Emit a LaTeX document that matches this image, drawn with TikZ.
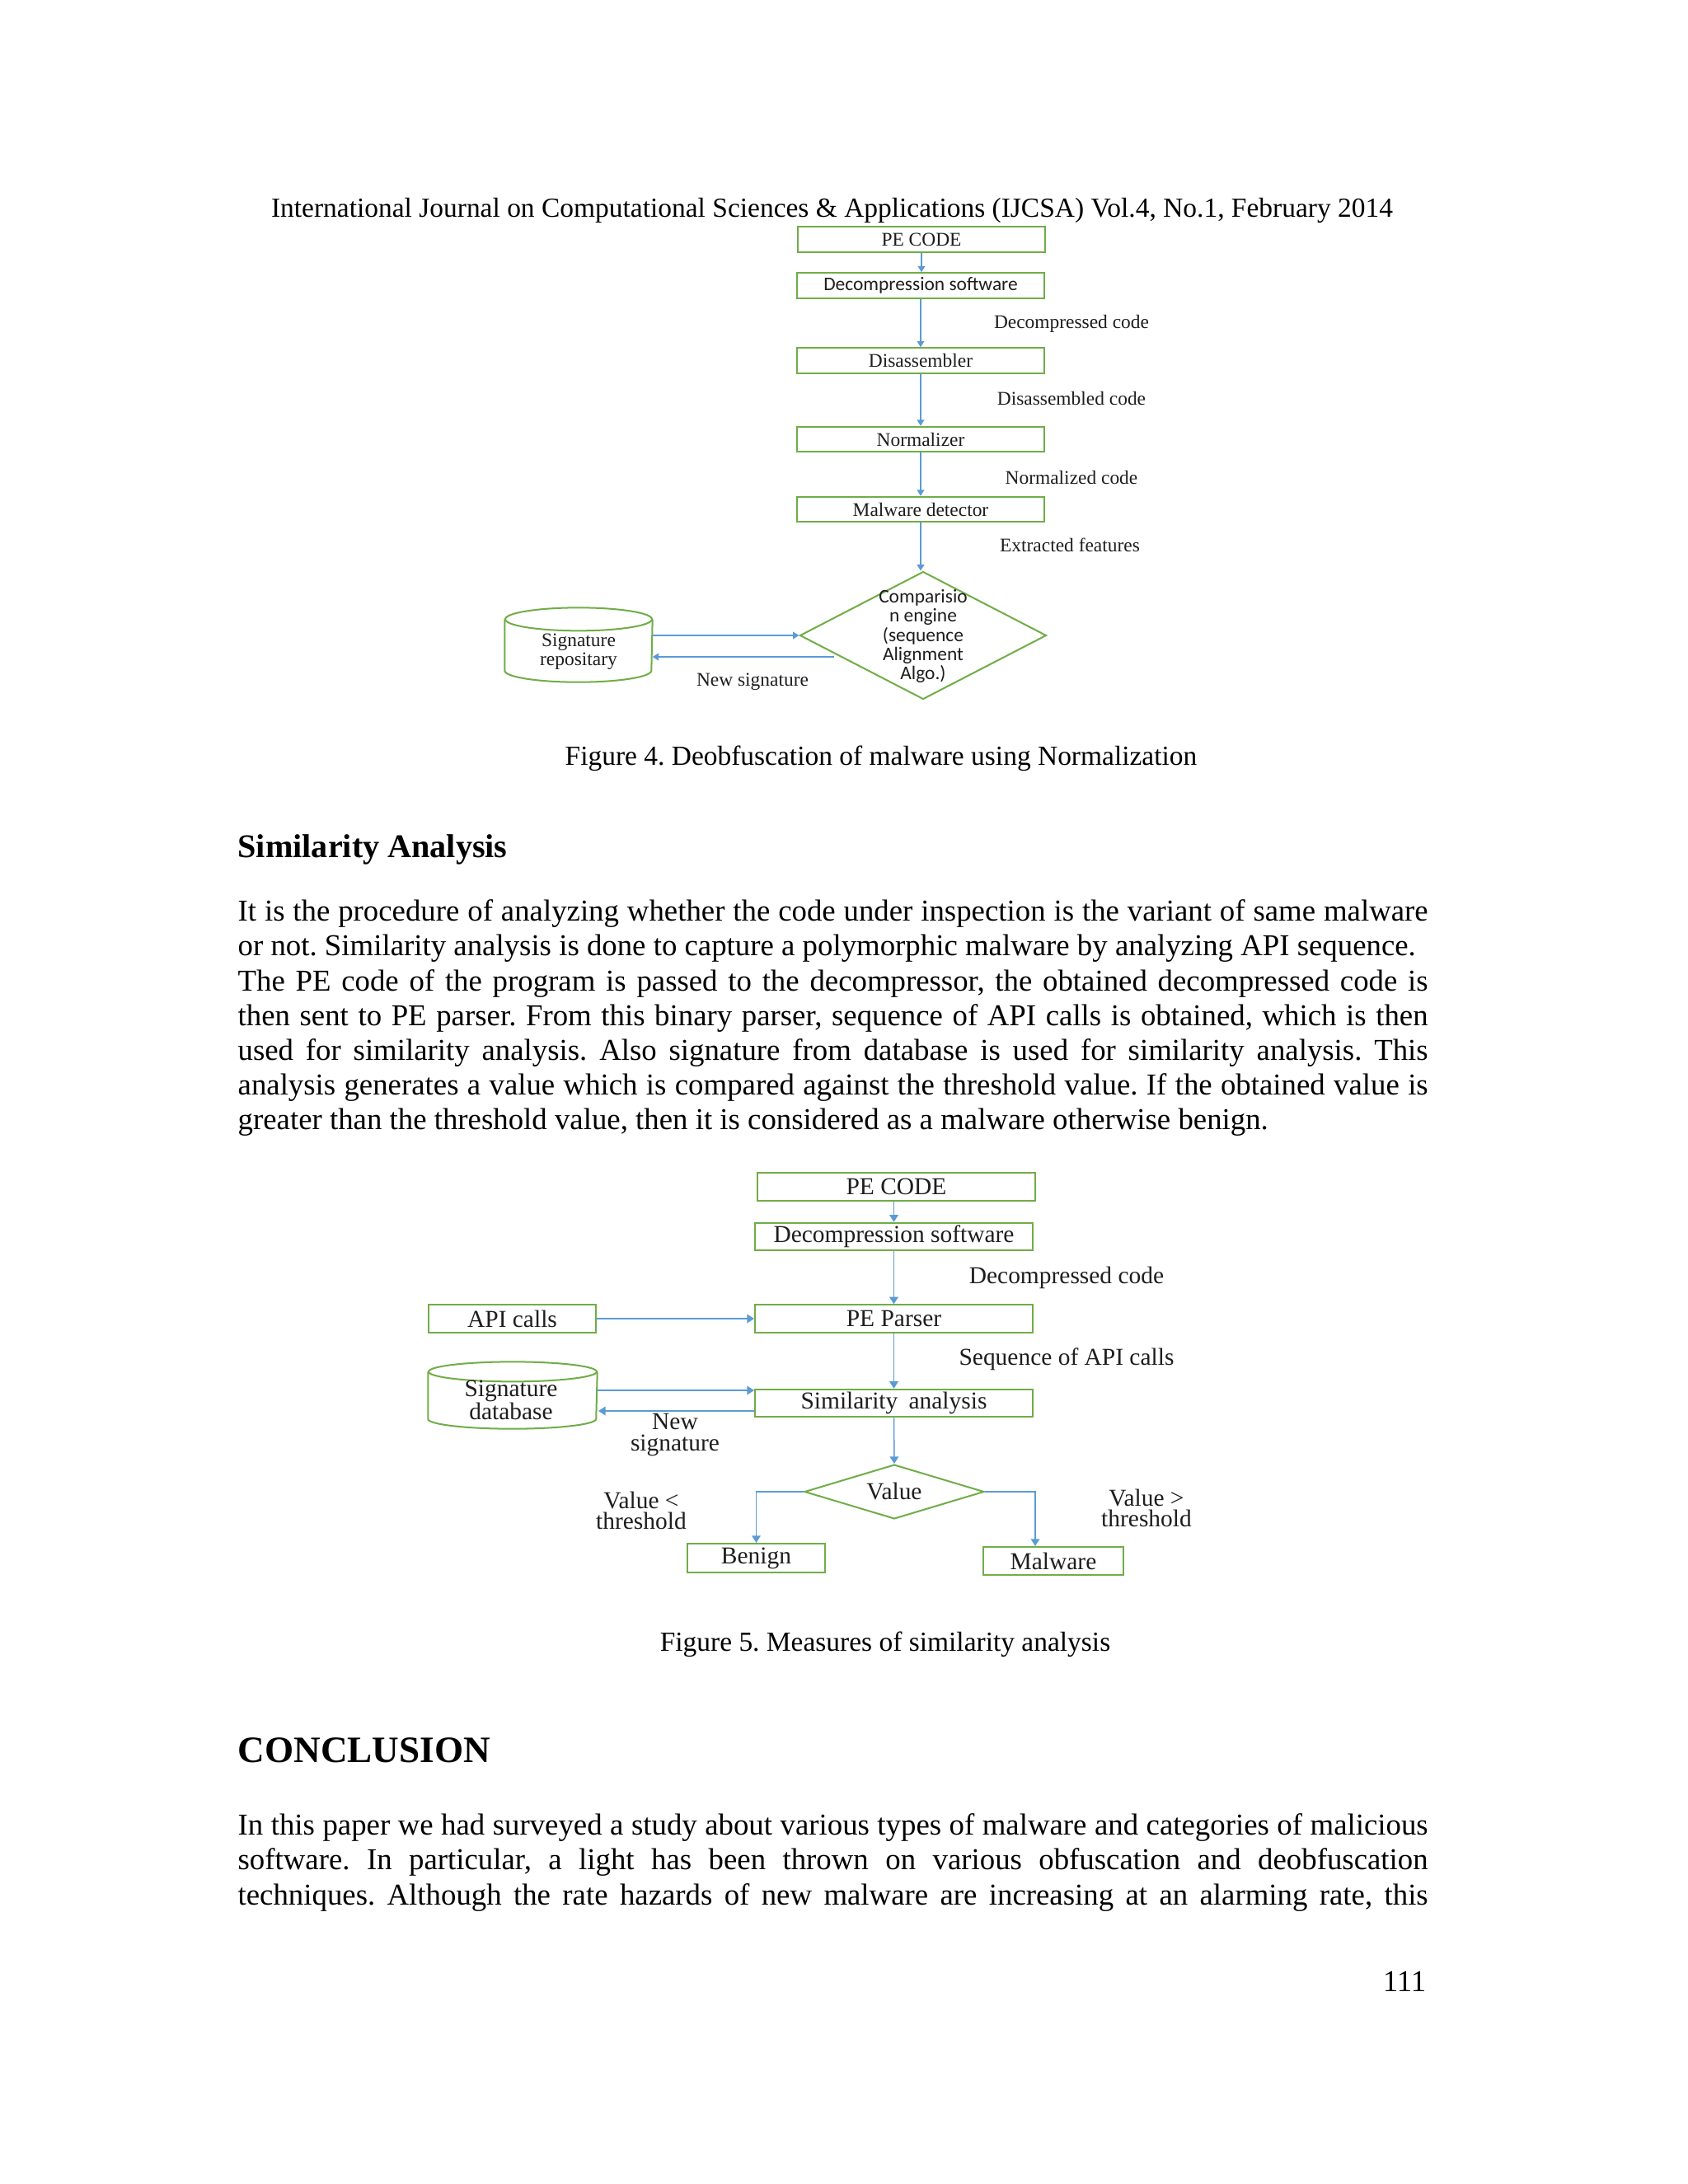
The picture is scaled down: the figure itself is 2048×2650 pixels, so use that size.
\documentclass[tikz,border=0pt]{standalone}
\usepackage{fontspec}
\setmainfont{Liberation Serif}
\newfontfamily\calib{Carlito}
\usetikzlibrary{shapes.geometric,arrows.meta,calc}
\definecolor{bxgreen}{RGB}{112,173,71}
\definecolor{arblue}{RGB}{91,155,213}
\definecolor{dtext}{RGB}{30,30,30}
\newcommand\jline[1]{\makebox[431.5pt][s]{#1}}
\frenchspacing
\begin{document}
\begin{tikzpicture}[x=0.29883pt,y=-0.29883pt,
  txt/.style={anchor=base west,inner sep=0pt,font=\fontsize{11}{12.65}\selectfont},
  boxf/.style={draw=bxgreen,line width=0.6pt,inner sep=0pt,text=dtext,minimum width=89.6pt,minimum height=9.1pt,font=\fontsize{7}{8}\selectfont},
  boxv/.style={draw=bxgreen,line width=0.6pt,inner sep=0pt,text=dtext,minimum width=100.7pt,minimum height=10pt,font=\fontsize{8.8}{9}\selectfont},
  cyl/.style={draw=bxgreen,line width=0.6pt},
  lab4/.style={inner sep=0pt,text=dtext,align=center,font=\fontsize{7}{6.9}\selectfont},
  lab5/.style={inner sep=0pt,text=dtext,align=center,font=\fontsize{8.8}{7.6}\selectfont},
  arr4/.style={draw=arblue,line width=0.45pt,-{Triangle[length=2.2pt,width=2.6pt]}},
  arr5/.style={draw=arblue,line width=0.45pt,-{Triangle[length=2.6pt,width=3.2pt]}}]
\useasboundingbox[fill=white] (0,0) rectangle (2048,2650);

% header
\node[anchor=base,inner sep=0pt,font=\fontsize{10}{12}\selectfont] (hdr) at (1009.5,263)
  {International Journal on Computational Sciences \& Applications (IJCSA) Vol.4, No.1, February 2014};

% ---------- Figure 4 ----------
\node[boxf] (pe4) at (1118,290.5) {PE CODE};
\node[boxf,font=\calib\fontsize{7}{8}\selectfont] (dec4) at (1117,346.5) {Decompression software};
\node[boxf] (dis4) at (1117,437.5) {Disassembler};
\node[boxf] (nor4) at (1117,533) {Normalizer};
\node[boxf] (mal4) at (1117,618) {Malware detector};
\node[draw=bxgreen,line width=0.6pt,shape=diamond,inner sep=0pt,minimum width=89.35pt,minimum height=46.3pt] (cmp4) at (1120,771) {};
\node[lab4,font=\calib\fontsize{7}{6.9}\selectfont] (cmp4t) at (1120,772) {Comparisio\\n engine\\(sequence\\Alignment\\Algo.)};
\node[inner sep=0pt,minimum width=53.2pt,minimum height=26.6pt] (sig4) at (702,782.5) {};
\draw[cyl] ($(sig4.north west)+(0,14)$) -- ($(sig4.south west)+(0,-14)$)
  arc[start angle=180,end angle=0,x radius=89,y radius=14] -- ($(sig4.north east)+(0,14)$);
\draw[cyl] ($(sig4.north)+(0,14)$) ellipse[x radius=89,y radius=14];
\node[lab4] (sig4t) at (702,791) {Signature\\repositary};

\node[lab4] (l41) at (1300,393) {Decompressed code};
\node[lab4] (l42) at (1300,483) {Disassembled code};
\node[lab4] (l43) at (1300,579) {Normalized code};
\node[lab4] (l44) at (1298,661) {Extracted features};
\node[lab4] (l45) at (913,827) {New signature};

\draw[arr4] (pe4.south) -- (dec4.north -| pe4.south);
\draw[arr4] (dec4.south) -- (dis4.north);
\draw[arr4] (dis4.south) -- (nor4.north);
\draw[arr4] (nor4.south) -- (mal4.north);
\draw[arr4] (mal4.south) -- (mal4.south |- cmp4.north);
\draw[arr4] (sig4.east |- cmp4.west) -- (cmp4.west);
\coordinate (b4) at (1012,797);
\draw[arr4] (b4) -- (b4 -| sig4.east);

\node[anchor=base,inner sep=0pt,font=\fontsize{10}{12}\selectfont] (cap4) at (1069,928)
  {Figure 4. Deobfuscation of malware using Normalization};

% ---------- Section text ----------
\node[anchor=base west,inner sep=0pt,font=\fontsize{12}{14}\selectfont\bfseries] (h1) at (288,1040) {Similarity Analysis};
\node[txt] (p1) at (288,1117.7) {\jline{It is the procedure of analyzing whether the code under inspection is the variant of same malware}};
\node[txt] (p2) at (288,1159.9) {or not. Similarity analysis is done to capture a polymorphic malware by analyzing API sequence.};
\node[txt] (p3) at (288,1202.1) {\jline{The PE code of the program is passed to the decompressor, the obtained decompressed code is}};
\node[txt] (p4) at (288,1244.3) {\jline{then sent to PE parser. From this binary parser, sequence of API calls is obtained, which is then}};
\node[txt] (p5) at (288,1286.5) {\jline{used for similarity analysis. Also signature from database is used for similarity analysis. This}};
\node[txt] (p6) at (288,1328.7) {\jline{analysis generates a value which is compared against the threshold value. If the obtained value is}};
\node[txt] (p7) at (288,1370.9) {greater than the threshold value, then it is considered as a malware otherwise benign.};

% ---------- Figure 5 ----------
\node[boxv] (pe5) at (1087.5,1440) {PE CODE};
\node[boxv] (dec5) at (1084.5,1500.5) {Decompression software};
\node[boxv] (par5) at (1084.5,1600) {PE Parser};
\node[boxv] (sim5) at (1084.5,1702.5) {Similarity\hspace{0.45em}analysis};
\node[boxv,minimum width=60.7pt] (api5) at (621.5,1600) {API calls};
\node[inner sep=0pt,minimum width=61pt,minimum height=23.9pt] (sig5) at (622,1693) {};
\draw[cyl] ($(sig5.north west)+(0,12)$) -- ($(sig5.south west)+(0,-12)$)
  arc[start angle=180,end angle=0,x radius=102,y radius=12] -- ($(sig5.north east)+(0,12)$);
\draw[cyl] ($(sig5.north)+(0,12)$) ellipse[x radius=102,y radius=12];
\node[lab5,font=\fontsize{8.8}{8.4}\selectfont] (sig5t) at (620,1699) {Signature\\database};
\node[draw=bxgreen,line width=0.6pt,shape=diamond,inner sep=0pt,minimum width=65.1pt,minimum height=19.7pt] (val5) at (1085,1810) {};
\node[lab5] (val5t) at (1085,1809) {Value};
\node[boxv,minimum width=49.9pt,minimum height=10.5pt] (ben5) at (917.5,1890.5) {Benign};
\node[boxv,minimum width=50.8pt,minimum height=10.2pt] (mlw5) at (1278,1894) {Malware};

\node[lab5] (l51) at (1294,1550) {Decompressed code};
\node[lab5] (l52) at (1294,1649) {Sequence of API calls};
\node[lab5] (l53) at (819,1741) {New\\signature};
\node[lab5] (l54) at (778,1833) {Value <\\threshold};
\node[lab5] (l55) at (1391,1830) {Value >\\threshold};

\draw[arr5] (pe5.south -| dec5.north) -- (dec5.north);
\draw[arr5] (dec5.south) -- (par5.north);
\draw[arr5] (par5.south) -- (sim5.north);
\draw[arr5] (sim5.south) -- (val5.north);
\draw[arr5] (api5.east) -- (par5.west);
\coordinate (a5) at (724,1687);
\draw[arr5] (a5) -- (a5 -| sim5.west);
\coordinate (b5) at (726,1712);
\draw[arr5] (b5 -| sim5.west) -- (b5);
\draw[arr5] (val5.west) -| (ben5.north);
\coordinate (rb5) at (1256,1810);
\draw[arr5] (val5.east) -- (rb5) -- (rb5 |- mlw5.north);

\node[anchor=base,inner sep=0pt,font=\fontsize{10}{12}\selectfont] (cap5) at (1074,2003)
  {Figure 5. Measures of similarity analysis};

% ---------- Conclusion ----------
\node[anchor=base west,inner sep=0pt,font=\fontsize{13.5}{16}\selectfont\bfseries] (h2) at (288,2138) {CONCLUSION};
\node[txt] (c1) at (288,2226.7) {\jline{In this paper we had surveyed a study about various types of malware and categories of malicious}};
\node[txt] (c2) at (288,2268.9) {\jline{software. In particular, a light has been thrown on various obfuscation and deobfuscation}};
\node[txt] (c3) at (288,2311.1) {\jline{techniques. Although the rate hazards of new malware are increasing at an alarming rate, this}};

\node[anchor=base east,inner sep=0pt,font=\fontsize{11}{12.65}\selectfont] (pg) at (1731,2416) {111};
\end{tikzpicture}
\end{document}
